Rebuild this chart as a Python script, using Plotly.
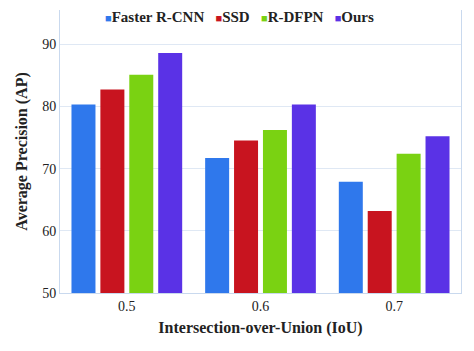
import plotly.graph_objects as go

categories = ["0.5", "0.6", "0.7"]
series_names = ["Faster R-CNN", "SSD", "R-DFPN", "Ours"]
faster_rcnn = [80.3, 71.7, 67.9]
ssd = [82.7, 74.5, 63.2]
r_dfpn = [85.1, 76.2, 72.4]
ours = [88.6, 80.3, 75.2]
y_ticks = [50, 60, 70, 80, 90]

colors = ["#2f78ec", "#c8141f", "#7ad212", "#5a32e6"]
values = [faster_rcnn, ssd, r_dfpn, ours]

fig = go.Figure()
for name, vals, c in zip(series_names, values, colors):
    fig.add_trace(go.Bar(x=categories, y=vals, name=name, showlegend=False,
                         marker=dict(color=c, line=dict(width=0))))

# compact legend drawn as text
legend_parts = []
for name, c in zip(series_names, colors):
    legend_parts.append(f"<span style='color:{c};font-size:11px'>■</span><b>{name}</b>")
legend_text = "&nbsp;&nbsp;&nbsp;".join(legend_parts)

font_family = "Liberation Serif"
fig.add_annotation(text=legend_text, xref="paper", yref="paper", x=0.448, y=0.975,
                   xanchor="center", yanchor="middle", showarrow=False,
                   font=dict(family=font_family, size=15, color="#222222"))

fig.update_layout(
    width=474, height=351,
    margin=dict(l=60, r=13, t=10, b=58),
    paper_bgcolor="white", plot_bgcolor="white",
    barmode="group", bargap=0.135, bargroupgap=0.17,
    font=dict(family=font_family, color="#222222", size=14),
    xaxis=dict(showline=True, linecolor="#c9d9ee", linewidth=1, ticks="",
               tickfont=dict(size=14),
               title=dict(text="<b>Intersection-over-Union (IoU)</b>", font=dict(size=16), standoff=9)),
    yaxis=dict(range=[50, 95.5], tickvals=y_ticks, showline=True, mirror=True,
               linecolor="#c9d9ee", linewidth=1, showgrid=True, gridcolor="#dfe8f4",
               zeroline=False, ticks="", tickfont=dict(size=14),
               title=dict(text="<b>Average Precision (AP)</b>", font=dict(size=16), standoff=10)),
)

fig.write_html("out.html")
